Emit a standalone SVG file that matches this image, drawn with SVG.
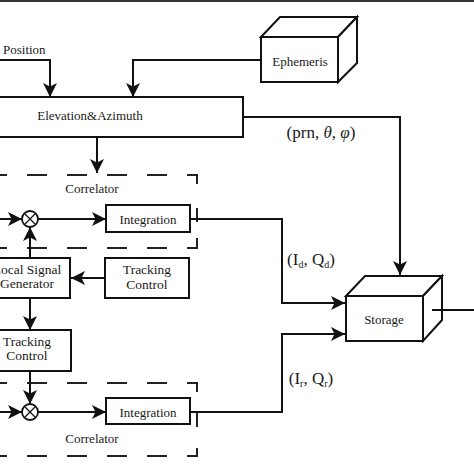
<svg xmlns="http://www.w3.org/2000/svg" width="474" height="474" viewBox="0 0 474 474">
<defs>
<marker id="arr" markerUnits="userSpaceOnUse" markerWidth="16" markerHeight="14" refX="14" refY="7" orient="auto" viewBox="0 0 16 14">
<path d="M0,0 L14,7 L0,14 L3.5,7 Z" fill="#111"/>
</marker>
<style>
.ln{fill:none;stroke:#111;stroke-width:2}
.ar{fill:none;stroke:#111;stroke-width:2;marker-end:url(#arr)}
.box{fill:#fff;stroke:#111;stroke-width:2}
.dash{fill:none;stroke:#222;stroke-width:2}
.t{font-family:"Liberation Serif","Times New Roman",serif;font-size:13px;fill:#1a1a1a;text-anchor:middle}
.t2{font-family:"Liberation Serif","Times New Roman",serif;font-size:13.5px;fill:#1a1a1a;text-anchor:middle}
.m{font-family:"Liberation Serif","Times New Roman",serif;font-size:17px;fill:#1a1a1a;text-anchor:middle}
</style>
</defs>
<rect x="0" y="0" width="474" height="2" fill="#333"/>

<g id="correlator-top">
<line class="dash" x1="-13" y1="175" x2="197" y2="175" stroke-dasharray="20 20"/>
<line class="dash" x1="-13" y1="248" x2="197" y2="248" stroke-dasharray="20 20"/>
<line class="dash" x1="197" y1="174" x2="197" y2="249" stroke-dasharray="10 24 14 16 11"/>
<text class="t" x="92" y="192.5">Correlator</text>
</g>
<g id="correlator-bottom">
<line class="dash" x1="-13" y1="383" x2="197" y2="383" stroke-dasharray="20 20"/>
<line class="dash" x1="-13" y1="456" x2="197" y2="456" stroke-dasharray="20 20"/>
<line class="dash" x1="197" y1="382" x2="197" y2="457" stroke-dasharray="10 20 15 21 11"/>
<text class="t" x="92" y="442.5">Correlator</text>
</g>

<g id="connectors">
<path class="ar" d="M0,60 H50 V97"/>
<path class="ar" d="M261,60 H133 V97"/>
<path class="ar" d="M243,117 H400 V275"/>
<path class="ar" d="M97,137 V173"/>
<path class="ar" d="M0,219 H22"/>
<path class="ar" d="M38,219 H106"/>
<path class="ar" d="M190,219 H282 V303 H345"/>
<path class="ar" d="M30,258 V227"/>
<path class="ar" d="M105,278 H71"/>
<path class="ar" d="M30,298 V330"/>
<path class="ar" d="M30,371 V404"/>
<path class="ar" d="M0,412 H22"/>
<path class="ar" d="M38,412 H106"/>
<path class="ar" d="M190,412 H282 V334 H345"/>
<path class="ln" d="M432,310 H474"/>
</g>

<g id="position">
<text class="t" x="3" y="53.5" style="text-anchor:start">Position</text>
</g>

<g id="ephemeris">
<rect class="box" x="261" y="37" width="77" height="45"/>
<path class="box" d="M261,37 L280,17 L357,17 L338,37 Z"/>
<path class="box" d="M338,37 L357,17 L357,63 L338,82 Z"/>
<text class="t" x="300" y="65.5">Ephemeris</text>
</g>

<g id="elevation">
<rect class="box" x="-10" y="97" width="253" height="40"/>
<text class="t" x="90" y="119.5">Elevation&amp;Azimuth</text>
</g>

<g id="prn-label">
<text class="m" x="321" y="138">(prn, <tspan font-style="italic">θ</tspan>, <tspan font-style="italic">φ</tspan>)</text>
</g>

<g id="mult-top">
<circle cx="30" cy="219" r="8" fill="#fff" stroke="#111" stroke-width="1.8"/>
<path d="M25,214 L35,224 M35,214 L25,224" stroke="#111" stroke-width="1.3"/>
</g>
<g id="integration-top">
<rect class="box" x="106" y="205" width="84" height="27"/>
<text class="t" x="148" y="223.5">Integration</text>
</g>
<g id="local-signal-generator">
<rect class="box" x="-20" y="258" width="90" height="40"/>
<text class="t2" x="27" y="273.5">Local Signal</text>
<text class="t2" x="27" y="288">Generator</text>
</g>
<g id="tracking-top">
<rect class="box" x="105" y="258" width="84" height="40"/>
<text class="t2" x="147" y="274">Tracking</text>
<text class="t2" x="147" y="288.5">Control</text>
</g>
<g id="tracking-bottom">
<rect class="box" x="-20" y="330" width="91" height="41"/>
<text class="t2" x="27" y="346">Tracking</text>
<text class="t2" x="27" y="360">Control</text>
</g>
<g id="mult-bottom">
<circle cx="30" cy="412" r="8" fill="#fff" stroke="#111" stroke-width="1.8"/>
<path d="M25,407 L35,417 M35,407 L25,417" stroke="#111" stroke-width="1.3"/>
</g>
<g id="integration-bottom">
<rect class="box" x="106" y="398" width="84" height="26"/>
<text class="t" x="148" y="416.5">Integration</text>
</g>

<g id="id-label">
<text class="m" x="311" y="265">(I<tspan font-size="10" dy="3">d</tspan><tspan dy="-3">, Q</tspan><tspan font-size="10" dy="3">d</tspan><tspan dy="-3">)</tspan></text>
</g>
<g id="ir-label">
<text class="m" x="311" y="384">(I<tspan font-size="10" dy="3">r</tspan><tspan dy="-3">, Q</tspan><tspan font-size="10" dy="3">r</tspan><tspan dy="-3">)</tspan></text>
</g>

<g id="storage">
<rect class="box" x="346" y="296" width="77" height="45"/>
<path class="box" d="M346,296 L365,276 L442,276 L423,296 Z"/>
<path class="box" d="M423,296 L442,276 L442,320 L423,341 Z"/>
<text class="t" x="384" y="323.5">Storage</text>
</g>
<path class="ln" d="M432,310 H474"/>
</svg>
